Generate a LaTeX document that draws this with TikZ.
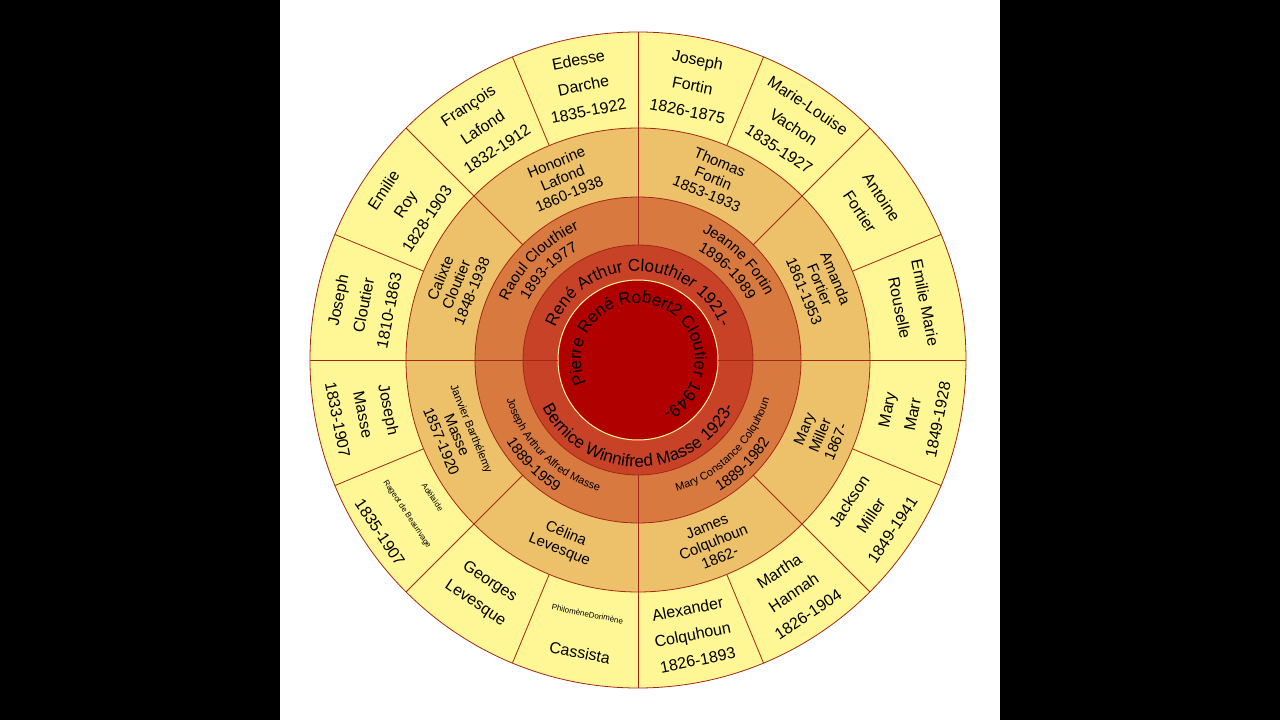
\documentclass[tikz,border=0pt]{standalone}
\usepackage{fontspec}
\setmainfont{Liberation Sans}
\usetikzlibrary{decorations.text}
\definecolor{cY}{RGB}{255,246,150}
\definecolor{cO3}{RGB}{236,193,106}
\definecolor{cO2}{RGB}{216,122,64}
\definecolor{cO1}{RGB}{200,66,40}
\definecolor{cC}{RGB}{176,0,0}
\definecolor{cL}{RGB}{160,40,20}
\newcommand\fsA{\fontsize{15}{15}\selectfont}
\newcommand\fsS{\fontsize{11}{11}\selectfont}
\newcommand\fsB{\fontsize{17}{17}\selectfont}
\newcommand\ou[3]{\node[otext,rotate=#1-90] (#2) at (#1:280) {#3};}
\newcommand\od[3]{\node[otext,rotate=#1+90] (#2) at (#1:280) {#3};}
\newcommand\tu[3]{\node[ttext,rotate=#1-90] (#2) at (#1:197) {#3};}
\newcommand\td[3]{\node[ttext,rotate=#1+90] (#2) at (#1:197) {#3};}
\begin{document}
\begin{tikzpicture}[x=1pt,y=1pt,
  otext/.style={align=center,font=\fontsize{16}{26}\selectfont,inner sep=0},
  ttext/.style={align=center,font=\fontsize{15}{17}\selectfont,inner sep=0},
  cur/.style={decorate,decoration={text along path,text align=center,text={#1}}},
  ring/.style={draw=cL,line width=0.8pt}]
\useasboundingbox (-638,-360) rectangle (642,360);
\fill[white] (-358,-360) rectangle (362,360);
\fill[black] (-638,-360) rectangle (-358,360);
\fill[black] (362,-360) rectangle (642,360);
\fill[cY,ring] (0,0) circle (328);
\fill[cO3,ring] (0,0) circle (232);
\fill[cO2,ring] (0,0) circle (163);
\fill[cO1,ring] (0,0) circle (115);
\fill[cC,draw=cY,line width=1pt] (0,0) circle (80);
\foreach \k in {0,...,15} \draw[cL,line width=0.8pt] (\k*22.5:232) -- (\k*22.5:328);
\foreach \k in {0,...,7} \draw[cL,line width=0.8pt] (\k*45:163) -- (\k*45:232);
\foreach \k in {0,...,3} \draw[cL,line width=0.8pt] (\k*90:115) -- (\k*90:163);
\draw[cL,line width=0.8pt] (0:80) -- (0:115) (180:80) -- (180:115);
% outer ring
\ou{11.25}{o1}{Emilie Marie\\Rouselle}
\ou{33.75}{o2}{Antoine\\Fortier}
\ou{56.25}{o3}{Marie-Louise\\Vachon\\1835-1927}
\ou{78.75}{o4}{Joseph\\Fortin\\1826-1875}
\ou{101.25}{o5}{Edesse\\Darche\\1835-1922}
\ou{123.75}{o6}{François\\Lafond\\1832-1912}
\ou{146.25}{o7}{Emilie\\Roy\\1828-1903}
\ou{168.75}{o8}{Joseph\\Cloutier\\1810-1863}
\od{191.25}{o9}{Joseph\\Masse\\1833-1907}
\od{213.75}{o10}{{\fontsize{8}{9}\selectfont Adélaïde}\\[4pt]{\fontsize{8}{9}\selectfont Rageot de Beaurivage}\\[10pt]1835-1907}
\od{236.25}{o11}{Georges\\Levesque}
\od{258.75}{o12}{{\fontsize{8}{9}\selectfont PhilomèneDorimène}\\[16pt]Cassista}
\od{281.25}{o13}{Alexander\\Colquhoun\\1826-1893}
\od{303.75}{o14}{Martha\\Hannah\\1826-1904}
\od{326.25}{o15}{Jackson\\Miller\\1849-1941}
\od{348.75}{o16}{Mary\\Marr\\1849-1928}
% ring 3
\tu{22.5}{t1}{Amanda\\Fortier\\1861-1953}
\tu{67.5}{t2}{Thomas\\Fortin\\1853-1933}
\tu{112.5}{t3}{Honorine\\Lafond\\1860-1938}
\tu{157.5}{t4}{Calixte\\Cloutier\\1848-1938}
\td{202.5}{t5}{{\fsS Janvier Barthélemy}\\Masse\\1857-1920}
\td{247.5}{t6}{Célina\\Levesque}
\td{292.5}{t7}{James\\Colquhoun\\1862-}
\td{337.5}{t8}{Mary\\Miller\\1867-}
% ring 2
\path[cur={|\fsA|Jeanne Fortin}] (85:143) arc (85:5:143);
\path[cur={|\fsA|1896-1989}] (85:125) arc (85:5:125);
\path[cur={|\fsA|Raoul Clouthier}] (175:143) arc (175:95:143);
\path[cur={|\fsA|1893-1977}] (175:125) arc (175:95:125);
\path[cur={|\fsS|Joseph Arthur Alfred Masse}] (183:137) arc (183:267:137);
\path[cur={|\fsA|1889-1959}] (185:155) arc (185:265:155);
\path[cur={|\fsS|Mary Constance Colquhoun}] (273:137) arc (273:357:137);
\path[cur={|\fsA|1889-1982}] (275:155) arc (275:355:155);
% ring 1
\path[cur={|\fsB|René Arthur Clouthier 1921-}] (172:89) arc (172:8:89);
\path[cur={|\fsB|Bernice Winnifred Masse 1923-}] (190:107) arc (190:350:107);
% center
\path[cur={|\fsB|Pierre René Robert2 Cloutier 1949-}] (218:57) arc (218:-78:57);
\node[inner sep=0] (ctr) at (0,0) {};
\end{tikzpicture}
\end{document}
